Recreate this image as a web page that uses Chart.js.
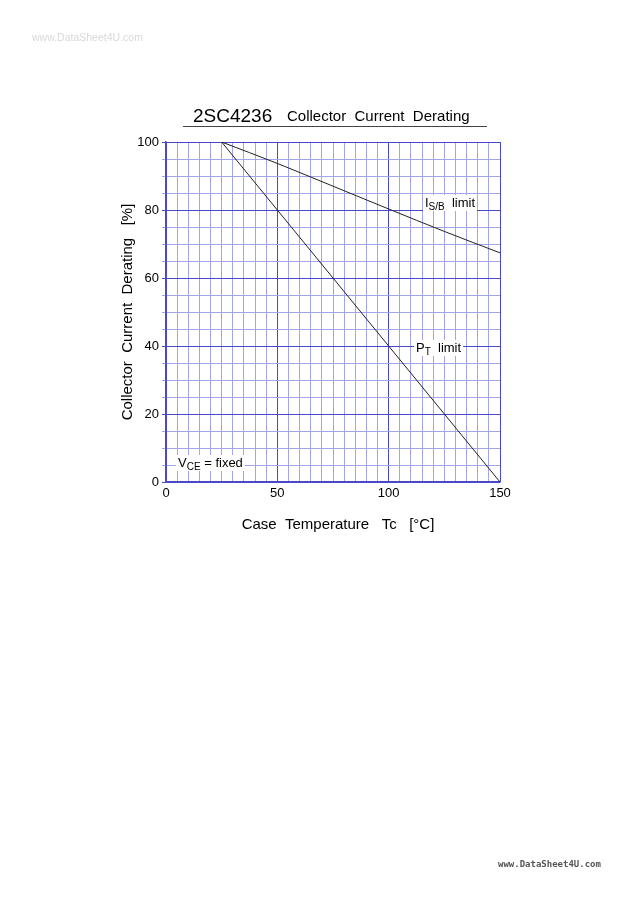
<!DOCTYPE html>
<html><head><meta charset="utf-8">
<script src="https://cdn.jsdelivr.net/npm/chart.js@4"></script>
<style>html,body{margin:0;padding:0;background:#fff;}#wrap{position:relative;width:638px;height:903px;}</style>
</head><body><div id="wrap"><canvas id="c" width="638" height="903"></canvas></div>
<script>
const tempISB = [25, 50, 75, 100, 125, 150];
const valISB = [100, 93.7, 87.0, 80.3, 73.7, 67.4];
const tempPT = [25, 150];
const valPT = [100, 0];
const xTickLabels = [0, 50, 100, 150];
const yTickLabels = [0, 20, 40, 60, 80, 100];

const MAJOR = '#4848c8', MINOR = '#a4a4ea';
const FONT = '"Liberation Sans", Arial, sans-serif';

const textPlugin = {
  id: 'texts',
  afterDraw(chart) {
    const c = chart.ctx;
    c.save();
    c.fillStyle = '#000';
    c.textBaseline = 'alphabetic';
    c.font = '19px ' + FONT; c.textAlign = 'left';
    c.fillText('2SC4236', 193, 122);
    c.font = '15px ' + FONT;
    c.fillText('Collector  Current  Derating', 287, 121);
    c.strokeStyle = '#444'; c.lineWidth = 1;
    c.beginPath(); c.moveTo(183, 126.5); c.lineTo(487, 126.5); c.stroke();
    c.font = '15px ' + FONT; c.textAlign = 'center';
    c.fillText('Case  Temperature   Tc   [\u00B0C]', 338, 529);
    c.save(); c.translate(132, 312); c.rotate(-Math.PI/2);
    c.fillText('Collector  Current  Derating   [%]', 0, 0); c.restore();
    function label(parts, x, y) {
      let w = 0;
      parts.forEach(p => { c.font = p[1] + 'px ' + FONT; w += c.measureText(p[0]).width; });
      c.fillStyle = '#fff'; c.fillRect(x - 2, y - 12, w + 4, 16);
      c.fillStyle = '#000'; c.textAlign = 'left';
      let cx = x;
      parts.forEach(p => { c.font = p[1] + 'px ' + FONT; c.fillText(p[0], cx, y + (p[2] || 0)); cx += c.measureText(p[0]).width; });
    }
    label([['I', 13], ['S/B', 10, 3], ['  limit', 13]], 425, 207);
    label([['P', 13], ['T', 10, 3], ['  limit', 13]], 416, 352);
    label([['V', 13], ['CE', 10, 3], [' = fixed', 13]], 178, 467);
    c.font = '10.5px ' + FONT; c.fillStyle = '#d8d8d8'; c.textAlign = 'left';
    c.fillText('www.DataSheet4U.com', 32, 41);
    c.font = 'bold 9px "DejaVu Sans Mono", monospace'; c.fillStyle = '#555';
    c.fillText('www.DataSheet4U.com', 498, 867);
    c.restore();
  }
};

const gridColor = (mod) => (ctx) => (ctx.tick && Math.round(ctx.tick.value) % mod === 0) ? MAJOR : MINOR;

new Chart(document.getElementById('c'), {
  type: 'line',
  data: {
    datasets: [
      { label: 'IS/B limit', data: tempISB.map((t, i) => ({x: t, y: valISB[i]})), borderColor: '#222', borderWidth: 1, pointRadius: 0, cubicInterpolationMode: 'monotone', fill: false },
      { label: 'PT limit', data: tempPT.map((t, i) => ({x: t, y: valPT[i]})), borderColor: '#222', borderWidth: 1, pointRadius: 0, tension: 0, fill: false }
    ]
  },
  options: {
    responsive: false, animation: false,
    layout: { padding: { top: 142, right: 138, left: 0, bottom: 0 } },
    plugins: { legend: { display: false }, tooltip: { enabled: false } },
    scales: {
      x: {
        type: 'linear', min: 0, max: 150,
        afterFit(s) { s.height = 421; },
        ticks: { stepSize: 5, autoSkip: false, maxRotation: 0, padding: 4, color: '#000', font: { family: FONT, size: 13 },
          callback: v => xTickLabels.includes(v) ? String(v) : '' },
        grid: { color: gridColor(50), lineWidth: 1, drawTicks: false },
        border: { color: MAJOR, width: 1.5 }
      },
      y: {
        type: 'linear', min: 0, max: 100,
        afterFit(s) { s.width = 166; },
        ticks: { stepSize: 5, autoSkip: false, padding: 3, color: '#000', font: { family: FONT, size: 13 },
          callback: v => yTickLabels.includes(v) ? String(v) : '' },
        grid: { color: gridColor(20), lineWidth: 1, tickLength: 4 },
        border: { color: MAJOR, width: 1.5 }
      }
    }
  },
  plugins: [textPlugin]
});
</script></body></html>
